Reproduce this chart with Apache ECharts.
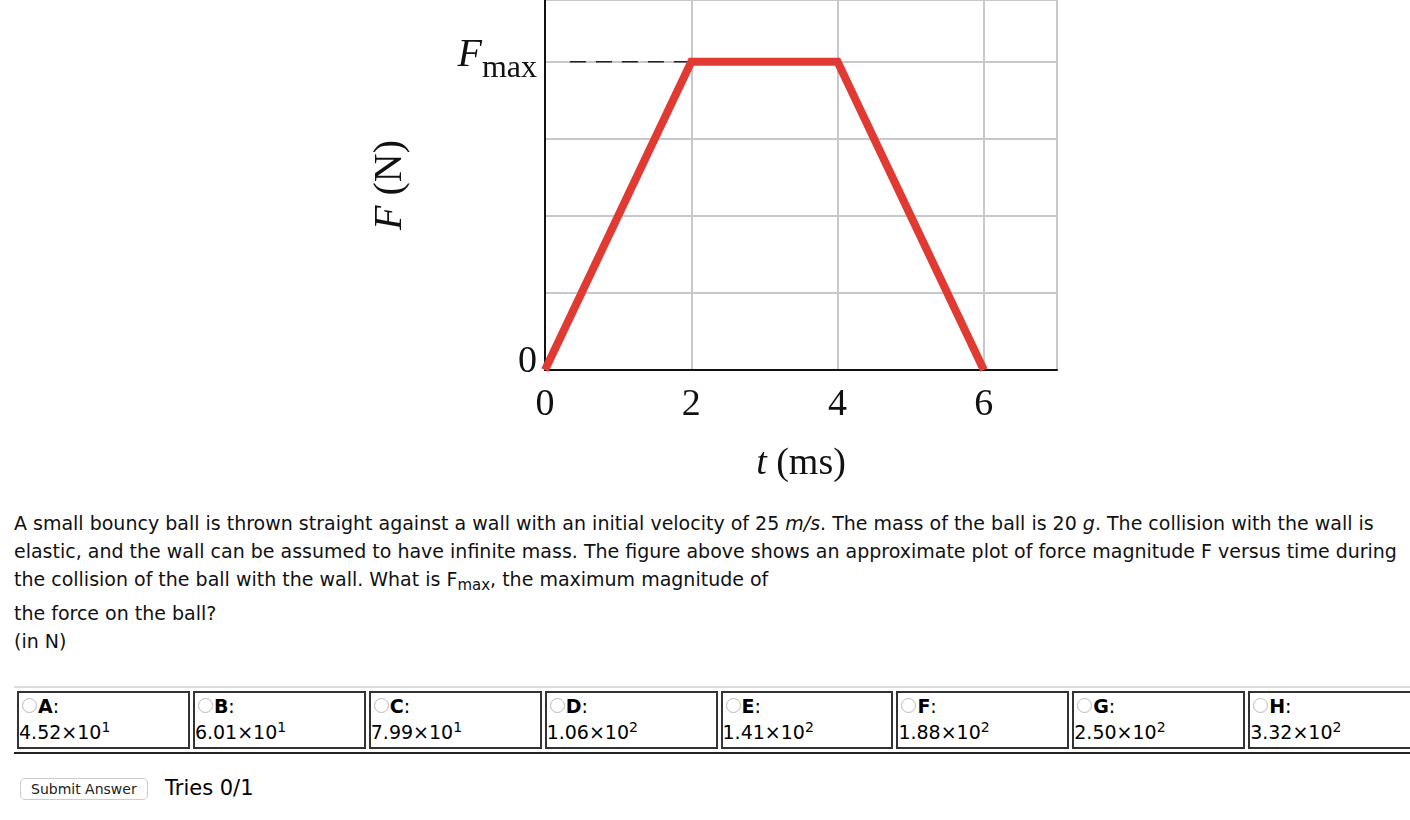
<!DOCTYPE html>
<html>
<head>
<meta charset="utf-8">
<script src="https://cdn.jsdelivr.net/npm/echarts@6/dist/echarts.min.js"></script>
<style>
  body { margin: 0; width: 1410px; height: 820px; background: #fff; font-family: "DejaVu Sans", Verdana, sans-serif; overflow: hidden; }
  #chart { position: absolute; left: 0; top: 0; width: 1410px; height: 490px; }
  #q { position: absolute; left: 14px; top: 509px; width: 1395px; font-size: 19px; line-height: 28px; color: #111; }
  #q sub { font-size: 15px; vertical-align: -4px; line-height: 0; }
  table { position: absolute; left: 14px; top: 686px; border-collapse: separate; border-spacing: 3px; border-top: 2px solid #ddd; border-bottom: 2px solid #222; width: 1410px; }
  td { border: 2px solid #333; width: 168px; padding: 0 0 2px 0; font-size: 19px; line-height: 26px; vertical-align: top; }
  td .r { display: inline-block; width: 13px; height: 13px; border: 1px solid #bbb; border-radius: 50%; margin: 0 1px 0 3px; }
  td sup { font-size: 14px; line-height: 0; }
  #btn { position: absolute; left: 20px; top: 778px; font-size: 14px; border: 1px solid #ccc; border-radius: 5px; padding: 2px 10px; color: #222; }
  #tries { position: absolute; left: 165px; top: 776px; font-size: 21px; }
</style>
</head>
<body>
<div id="chart"></div>
<div id="q">A small bouncy ball is thrown straight against a wall with an initial velocity of 25 <i>m/s</i>. The mass of the ball is 20 <i>g</i>. The collision with the wall is elastic, and the wall can be assumed to have infinite mass. The figure above shows an approximate plot of force magnitude F versus time during the collision of the ball with the wall. What is F<sub>max</sub>, the maximum magnitude of<br><span style="display:inline-block;margin-top:6px">the force on the ball?</span><br>(in N)</div>
<table><tr id="row"></tr></table>
<div id="btn">Submit Answer</div>
<div id="tries">Tries 0/1</div>
<script>
// 力-时间曲线数据 (t 单位 ms, F 以 Fmax=4 计)
const times = [0, 2, 4, 6]
const forces = [0, 4, 4, 0]
const fmaxLevel = 4
// 选项
const choiceLetters = ['A', 'B', 'C', 'D', 'E', 'F', 'G', 'H']
const choiceMant = ['4.52', '6.01', '7.99', '1.06', '1.41', '1.88', '2.50', '3.32']
const choiceExp = [1, 1, 1, 2, 2, 2, 2, 2]

// 渲染选项表格
document.querySelector('#row').innerHTML = choiceLetters.map((l, i) =>
  `<td><span class="r"></span><b>${l}</b>:<br>${choiceMant[i]}×10<sup>${choiceExp[i]}</sup></td>`).join('')

const serif = '"Liberation Serif", "DejaVu Serif", serif'
const myChart = echarts.init(document.querySelector('#chart'))
const option = {
  animation: false,
  grid: { left: 545, top: 0, width: 512, height: 370 },
  xAxis: {
    type: 'value', min: 0, max: 7, interval: 2,
    axisLine: { lineStyle: { color: '#111', width: 2 } },
    axisTick: { show: false },
    splitLine: { lineStyle: { color: '#c8c8c8', width: 2 } },
    axisLabel: { showMaxLabel: false, fontFamily: serif, fontSize: 38, color: '#111', margin: 16 },
    name: '{i|t} (ms)', nameLocation: 'middle', nameGap: 75,
    nameTextStyle: { fontFamily: serif, fontSize: 38, color: '#111', rich: { i: { fontFamily: serif, fontStyle: 'italic', fontSize: 38 } } }
  },
  yAxis: {
    type: 'value', min: 0, max: 4.8, interval: 1,
    axisLine: { show: true, lineStyle: { color: '#111', width: 2 } },
    axisTick: { show: false },
    splitLine: { lineStyle: { color: '#c8c8c8', width: 2 } },
    axisLabel: {
      margin: 8, showMaxLabel: false,
      formatter: v => v === 0 ? '{z|0}' : (v === fmaxLevel ? '{f|F}{m|max}' : ''),
      rich: {
        z: { fontFamily: serif, fontSize: 38, color: '#111', padding: [0, 0, 16, 0] },
        f: { fontFamily: serif, fontStyle: 'italic', fontSize: 40, color: '#111', padding: [0, 0, 12, 0] },
        m: { fontFamily: serif, fontSize: 32, color: '#111', padding: [14, 0, 0, 0] }
      }
    },
    name: '{i|F} (N)', nameLocation: 'middle', nameGap: 135,
    nameTextStyle: { fontFamily: serif, fontSize: 40, color: '#111', rich: { i: { fontFamily: serif, fontStyle: 'italic', fontSize: 40 } } }
  },
  series: [
    {
      type: 'line', symbol: 'none', z: 1,
      data: [[0.34, fmaxLevel], [2, fmaxLevel]],
      lineStyle: { color: '#222', width: 1.5, type: [16, 10] }
    },
    {
      type: 'line', symbol: 'none', z: 3,
      data: times.map((t, i) => [t, forces[i]]),
      lineStyle: { color: '#e03a32', width: 8, join: 'miter' }
    }
  ]
}
myChart.setOption(option)
</script>
</body>
</html>
